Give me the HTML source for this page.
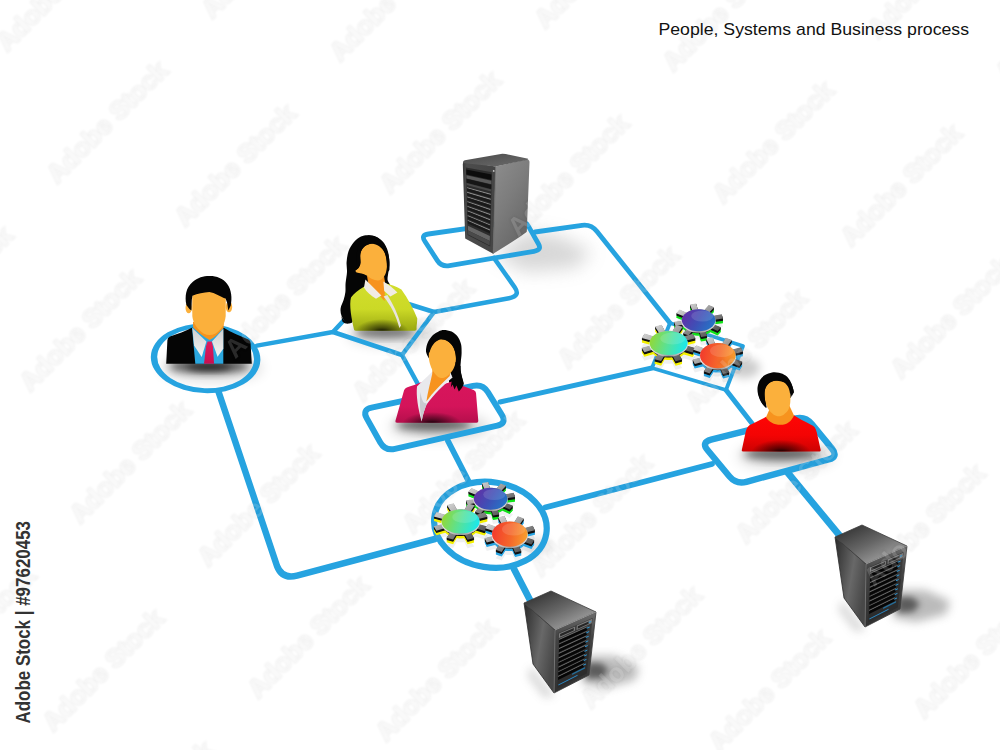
<!DOCTYPE html>
<html>
<head>
<meta charset="utf-8">
<title>People, Systems and Business process</title>
<style>
  html, body { margin:0; padding:0; background:#ffffff; }
  body { width:1000px; height:750px; overflow:hidden; font-family:"Liberation Sans", sans-serif; }
  svg { display:block; position:absolute; left:0; top:0; }
  .ln { fill:none; stroke:#26a3e0; stroke-linecap:round; stroke-linejoin:round; }
  .wm { font-family:"Liberation Sans", sans-serif; font-weight:bold; font-size:26px; }
</style>
</head>
<body>
<svg width="1000" height="750" viewBox="0 0 1000 750">
  <defs>
    <filter id="blur2" x="-50%" y="-50%" width="200%" height="200%"><feGaussianBlur stdDeviation="2"/></filter>
    <filter id="blur3" x="-50%" y="-50%" width="200%" height="200%"><feGaussianBlur stdDeviation="3"/></filter>
    <filter id="blur4" x="-50%" y="-50%" width="200%" height="200%"><feGaussianBlur stdDeviation="4"/></filter>
    <filter id="blur5" x="-50%" y="-50%" width="200%" height="200%"><feGaussianBlur stdDeviation="5"/></filter>
    <filter id="blur7" x="-50%" y="-50%" width="200%" height="200%"><feGaussianBlur stdDeviation="7"/></filter>
    <filter id="blur9" x="-50%" y="-50%" width="200%" height="200%"><feGaussianBlur stdDeviation="9"/></filter>
    <linearGradient id="gdP" x1="0" y1="0.3" x2="1" y2="0.7"><stop offset="0" stop-color="#6230a6"/><stop offset="0.5" stop-color="#3f4fb6"/><stop offset="1" stop-color="#2377c8"/></linearGradient>
    <linearGradient id="gdG" x1="0" y1="0.4" x2="1" y2="0.6"><stop offset="0" stop-color="#93d836"/><stop offset="0.5" stop-color="#56e29a"/><stop offset="1" stop-color="#17e8f0"/></linearGradient>
    <linearGradient id="gdO" x1="0" y1="0.4" x2="1" y2="0.5"><stop offset="0" stop-color="#f23a2c"/><stop offset="0.55" stop-color="#f5682a"/><stop offset="1" stop-color="#f8a02e"/></linearGradient>
    <linearGradient id="gTop" x1="0" y1="0" x2="1" y2="1"><stop offset="0" stop-color="#ececec"/><stop offset="0.45" stop-color="#9a9a9a"/><stop offset="1" stop-color="#3c3c3c"/></linearGradient>
    <linearGradient id="gRim" x1="0" y1="0" x2="1" y2="0"><stop offset="0" stop-color="#f0f0f0"/><stop offset="0.5" stop-color="#9a9a9a"/><stop offset="1" stop-color="#e0e0e0"/></linearGradient>
    <path id="gp" d="M713.3,315.8 L721.7,314.3 L723.1,318.6 L714.6,319.7 L714.5,321.3 L714.2,322.7 L713.5,324.2 L721,327.2 L717.6,330.9 L710.4,327.6 L708.8,328.6 L707,329.5 L705,330.2 L707.2,335.9 L701,336.9 L699.3,331.1 L697.1,331.1 L694.9,330.8 L692.8,330.4 L688.4,335.5 L683,333.2 L687.8,328.2 L686.2,327.1 L685,325.9 L683.9,324.6 L675.5,326.1 L674.1,321.8 L682.6,320.7 L682.7,319.1 L683,317.7 L683.7,316.2 L676.2,313.2 L679.6,309.5 L686.8,312.8 L688.4,311.8 L690.2,310.9 L692.2,310.2 L690,304.5 L696.2,303.5 L697.9,309.3 L700.1,309.3 L702.3,309.6 L704.4,310 L708.8,304.9 L714.2,307.2 L709.4,312.2 L711,313.3 L712.2,314.5Z"/>
    <path id="gg" d="M686.4,345.6 L695.4,348.1 L692.6,352.5 L683.8,349.8 L682.2,351.2 L680.4,352.4 L678.4,353.4 L682.2,359.4 L675.6,361.2 L672.2,355.1 L669.7,355.3 L667.2,355.3 L664.7,355 L661.1,361.1 L654.5,359.2 L658.5,353.3 L656.5,352.2 L654.8,351 L653.3,349.6 L644.4,352.2 L641.7,347.7 L650.8,345.4 L650.4,343.7 L650.5,342 L650.8,340.4 L641.8,337.9 L644.6,333.5 L653.4,336.2 L655,334.8 L656.8,333.6 L658.8,332.6 L655,326.6 L661.6,324.8 L665,330.9 L667.5,330.7 L670,330.7 L672.5,331 L676.1,324.9 L682.7,326.8 L678.7,332.7 L680.7,333.8 L682.4,335 L683.9,336.4 L692.8,333.8 L695.5,338.3 L686.4,340.6 L686.8,342.3 L686.7,344Z"/>
    <path id="go" d="M734.2,358.8 L742.3,361.5 L739.4,365.9 L731.5,362.9 L730,364.2 L728.2,365.4 L726.3,366.3 L729.4,372.4 L723.1,374 L720.4,367.8 L718,368 L715.7,367.9 L713.4,367.6 L709.7,373.4 L703.7,371.3 L707.7,365.6 L705.9,364.5 L704.4,363.2 L703.1,361.8 L694.8,364 L692.6,359.5 L701,357.5 L700.8,355.8 L700.9,354.1 L701.4,352.4 L693.3,349.7 L696.2,345.3 L704.1,348.3 L705.6,347 L707.4,345.8 L709.3,344.9 L706.2,338.8 L712.5,337.2 L715.2,343.4 L717.6,343.2 L719.9,343.3 L722.2,343.6 L725.9,337.8 L731.9,339.9 L727.9,345.6 L729.7,346.7 L731.2,348 L732.5,349.4 L740.8,347.2 L743,351.7 L734.6,353.7 L734.8,355.4 L734.7,357.1Z"/>
    <g id="gearset">
<use href="#gp" y="8.5" fill="#9aa0a6" opacity="0.16"/>
<use href="#gg" y="8.5" fill="#9aa0a6" opacity="0.16"/>
<use href="#go" y="8.5" fill="#9aa0a6" opacity="0.16"/>
<use href="#gp" y="4.6" fill="#12e21a"/>
<use href="#gp" y="4" fill="#12e21a"/>
<use href="#gp" y="3.4" fill="#12e21a"/>
<use href="#gp" y="2.8" fill="#12e21a"/>
<use href="#gp" y="2.2" fill="#111111"/>
<use href="#gp" y="1.6" fill="#111111"/>
<use href="#gp" y="1" fill="#111111"/>
<use href="#gp" y="0.5" fill="#111111"/>
<use href="#gp" fill="url(#gTop)"/>
<ellipse cx="698.6" cy="321.5" rx="17.1" ry="11.3" fill="url(#gRim)"/>
<ellipse cx="698.6" cy="320.2" rx="16.8" ry="11" fill="url(#gdP)"/>
<ellipse cx="702.3" cy="316" rx="11.1" ry="5.5" fill="#ffffff" opacity="0.13"/>
<use href="#gg" y="4.6" fill="#f4f000"/>
<use href="#gg" y="4" fill="#f4f000"/>
<use href="#gg" y="3.4" fill="#f4f000"/>
<use href="#gg" y="2.8" fill="#f4f000"/>
<use href="#gg" y="2.2" fill="#111111"/>
<use href="#gg" y="1.6" fill="#111111"/>
<use href="#gg" y="1" fill="#111111"/>
<use href="#gg" y="0.5" fill="#111111"/>
<use href="#gg" fill="url(#gTop)"/>
<ellipse cx="668.6" cy="344.3" rx="19.3" ry="12.3" fill="url(#gRim)"/>
<ellipse cx="668.6" cy="343" rx="19" ry="12" fill="url(#gdG)"/>
<ellipse cx="672.8" cy="338.4" rx="12.5" ry="6" fill="#ffffff" opacity="0.13"/>
<use href="#go" y="4.6" fill="#2aa6e4"/>
<use href="#go" y="4" fill="#2aa6e4"/>
<use href="#go" y="3.4" fill="#2aa6e4"/>
<use href="#go" y="2.8" fill="#2aa6e4"/>
<use href="#go" y="2.2" fill="#111111"/>
<use href="#go" y="1.6" fill="#111111"/>
<use href="#go" y="1" fill="#111111"/>
<use href="#go" y="0.5" fill="#111111"/>
<use href="#go" fill="url(#gTop)"/>
<ellipse cx="717.8" cy="356.9" rx="18.1" ry="12.9" fill="url(#gRim)"/>
<ellipse cx="717.8" cy="355.6" rx="17.8" ry="12.6" fill="url(#gdO)"/>
<ellipse cx="721.7" cy="350.8" rx="11.7" ry="6.3" fill="#ffffff" opacity="0.13"/>
</g>
    <linearGradient id="s1top" x1="0" y1="0" x2="1" y2="1"><stop offset="0" stop-color="#4a4a4a"/><stop offset="1" stop-color="#6c6c6c"/></linearGradient>
    <linearGradient id="s1front" x1="0" y1="0" x2="1" y2="0"><stop offset="0" stop-color="#3a3a3a"/><stop offset="0.12" stop-color="#4c4c4c"/><stop offset="1" stop-color="#454545"/></linearGradient>
    <linearGradient id="s1side" x1="0" y1="0" x2="0.6" y2="1"><stop offset="0" stop-color="#8e8e8e"/><stop offset="0.5" stop-color="#7c7c7c"/><stop offset="1" stop-color="#666666"/></linearGradient>
    <linearGradient id="s2top" x1="0.1" y1="0.1" x2="0.8" y2="0.9"><stop offset="0" stop-color="#343434"/><stop offset="0.5" stop-color="#666666"/><stop offset="1" stop-color="#a4a4a4"/></linearGradient>
    <linearGradient id="s2left" x1="0" y1="0" x2="1" y2="0.5"><stop offset="0" stop-color="#2a2a2a"/><stop offset="0.6" stop-color="#686868"/><stop offset="1" stop-color="#484848"/></linearGradient>
    <linearGradient id="s2front" x1="0" y1="0" x2="0" y2="1"><stop offset="0" stop-color="#6e6e6e"/><stop offset="0.3" stop-color="#444444"/><stop offset="1" stop-color="#303030"/></linearGradient>
    <g id="srvDark">
<polygon points="835,537 866,564 865,627 844,598" fill="url(#s2left)" stroke="#2a2a2a" stroke-width="0.8" stroke-linejoin="round"/>
<polygon points="866,564 907,546 900,609 865,627" fill="url(#s2front)" stroke="#3a3a3a" stroke-width="0.8" stroke-linejoin="round"/>
<polygon points="835,537 862,525 907,546 866,564" fill="url(#s2top)" stroke="#3c3c3c" stroke-width="0.8" stroke-linejoin="round"/>
<polyline points="866,564 907,546" fill="none" stroke="#a8a8a8" stroke-width="1" opacity="0.8"/>
<polyline points="866,564 865,627" fill="none" stroke="#8a8a8a" stroke-width="0.9" opacity="0.8"/>
<polygon points="869.6,567.1 903.6,552 897.8,607.4 868.2,622.5" fill="#3a3a3a"/>
<polygon points="868.9,593.9 900.8,578.8 897.8,607.4 868.2,622.5" fill="#2c2c2c"/>
<polygon points="870,567.6 886.2,560.4 885.9,564.8 869.9,572" fill="#7c7c7c"/>
<polygon points="887.8,559.6 903.2,552.8 902.7,557.2 887.5,564" fill="#7c7c7c"/>
<polygon points="871.1,568.1 884.9,562 884.7,564.5 871.1,570.6" fill="#262626"/>
<polygon points="888.9,560.2 899.8,555.4 899.6,557.8 888.7,562.7" fill="#262626"/>
<polygon points="870.2,573.1 898.6,560.3 898.5,561.2 870.2,574" fill="#707070"/>
<polygon points="870.2,574 898.5,561.2 898.2,564.3 870.1,577" fill="#060606"/>
<polygon points="897.7,561.8 900.7,560.5 900.6,561.5 897.6,562.8" fill="#2f9fe0"/>
<polygon points="870.1,577.7 898.1,564.9 898.1,565.8 870.1,578.6" fill="#707070"/>
<polygon points="870.1,578.6 898.1,565.8 897.8,568.9 870,581.7" fill="#060606"/>
<polygon points="897.2,566.4 900.2,565.1 900.1,566.1 897.2,567.5" fill="#2f9fe0"/>
<polygon points="870,582.3 897.7,569.6 897.6,570.5 870,583.2" fill="#707070"/>
<polygon points="870,583.2 897.6,570.5 897.3,573.5 869.9,586.3" fill="#060606"/>
<polygon points="896.8,571.1 899.7,569.7 899.6,570.7 896.7,572.1" fill="#2f9fe0"/>
<polygon points="869.9,587 897.3,574.2 897.2,575.1 869.8,587.9" fill="#707070"/>
<polygon points="869.8,587.9 897.2,575.1 896.9,578.1 869.7,590.9" fill="#060606"/>
<polygon points="896.4,575.7 899.3,574.3 899.2,575.3 896.3,576.7" fill="#2f9fe0"/>
<polygon points="869.7,591.6 896.8,578.8 896.8,579.7 869.7,592.5" fill="#707070"/>
<polygon points="869.7,592.5 896.8,579.7 896.5,582.7 869.6,595.5" fill="#060606"/>
<polygon points="896,580.3 898.8,579 898.7,580 895.9,581.3" fill="#2f9fe0"/>
<polygon points="869.6,596.2 896.4,583.4 896.3,584.3 869.6,597.1" fill="#707070"/>
<polygon points="869.6,597.1 896.3,584.3 896,587.4 869.5,600.1" fill="#060606"/>
<polygon points="895.5,584.9 898.4,583.6 898.3,584.6 895.5,585.9" fill="#2f9fe0"/>
<polygon points="869.5,600.8 896,588 895.9,588.9 869.5,601.7" fill="#707070"/>
<polygon points="869.5,601.7 895.9,588.9 895.6,592 869.4,604.8" fill="#060606"/>
<polygon points="895.1,589.5 897.9,588.2 897.8,589.2 895,590.6" fill="#2f9fe0"/>
<polygon points="869.4,605.4 895.5,592.7 895.5,593.5 869.3,606.3" fill="#707070"/>
<polygon points="869.3,606.3 895.5,593.5 895.2,596.6 869.3,609.4" fill="#060606"/>
<polygon points="894.7,594.2 897.5,592.8 897.4,593.8 894.6,595.2" fill="#2f9fe0"/>
<polygon points="869.2,610.1 895.1,597.3 895,598.2 869.2,610.9" fill="#707070"/>
<polygon points="869.2,610.9 895,598.2 894.7,601.2 869.1,614" fill="#060606"/>
<polygon points="894.3,598.8 897,597.4 896.9,598.4 894.2,599.8" fill="#2f9fe0"/>
<polygon points="899.8,555.9 902.2,554.9 902.1,556 899.7,557.1" fill="#2f9fe0"/>
<polygon points="869.4,618.5 888.6,608.8 888.5,609.8 869.3,619.5" fill="#2b8ccb"/>
<polygon points="883.2,607.6 896.1,601.1 896,602.4 883.1,608.9" fill="#256f9c"/>
</g>
    <linearGradient id="shirtG" x1="0" y1="0" x2="0" y2="1"><stop offset="0" stop-color="#cfcfcf"/><stop offset="1" stop-color="#f4f4f4"/></linearGradient>
    <radialGradient id="bshade" cx="0.5" cy="0.5" r="0.5"><stop offset="0" stop-color="#000" stop-opacity="0.95"/><stop offset="0.35" stop-color="#000" stop-opacity="0.55"/><stop offset="1" stop-color="#000" stop-opacity="0"/></radialGradient>
    <linearGradient id="olive" x1="0" y1="0" x2="0" y2="1"><stop offset="0" stop-color="#d3de2c"/><stop offset="0.55" stop-color="#cbd926"/><stop offset="1" stop-color="#9aa812"/></linearGradient>
    <linearGradient id="pinkG" x1="0" y1="0" x2="0" y2="1"><stop offset="0" stop-color="#d8155c"/><stop offset="0.6" stop-color="#d4145a"/><stop offset="1" stop-color="#b50f4c"/></linearGradient>
    <linearGradient id="redG" x1="0" y1="0" x2="0" y2="1"><stop offset="0" stop-color="#ff0505"/><stop offset="0.55" stop-color="#f40404"/><stop offset="1" stop-color="#cc0202"/></linearGradient>
    <linearGradient id="tieG" x1="0" y1="0" x2="0" y2="1"><stop offset="0" stop-color="#de1a5e"/><stop offset="1" stop-color="#c8104f"/></linearGradient>
    <clipPath id="cW1"><path d="M364.4,286.4 C358,290 353.6,293.6 351,297.6 C349,305 351.4,318 354,329.6 Q354.4,330.8 356,330.8 L414.6,330.8 Q416.6,330.8 416.6,329 L417.3,318.4 C413.6,309 408,298.6 401.4,289.4 C397,286.6 391,284.6 384,283 Z"/></clipPath>
    <clipPath id="cW2"><path d="M423.6,381.4 C417,384 411,386 406.8,387.4 Q404.6,388.2 404,390.4 L395.4,421 Q395,422.8 397,422.8 L476.6,422.8 Q478.4,422.8 478.3,421 L476,393 Q475.8,390.8 473.6,390 C468,388 460,385 452,381.6 L438,386 Z"/></clipPath>
    <clipPath id="cR"><path d="M766,416.8 C760,420.4 753.6,422.8 749.4,425.2 C746.8,427 745.8,430.6 744.9,435.6 L741.8,450 Q741.5,451.6 743.2,451.6 L819.4,451.6 Q821,451.6 820.7,450 L817.5,435.6 C816.5,430.6 815.6,427.6 813,425.8 C808,423 800,419.4 794,415.2 L780,422 Z"/></clipPath>
    <filter id="wmf" x="-10%" y="-60%" width="120%" height="220%"><feGaussianBlur stdDeviation="1.1"/></filter>
    <g id="wm"><text class="wm" text-anchor="middle" x="0" y="9" fill="none" stroke="#000000" stroke-width="2.4" opacity="0.042" filter="url(#wmf)">Adobe Stock</text><text class="wm" text-anchor="middle" x="0" y="9" fill="#ffffff" opacity="0.15">Adobe Stock</text></g>
  </defs>
  <rect x="0" y="0" width="1000" height="750" fill="#ffffff"/>

  <!-- shadows -->
  <polygon points="494,254 527,231 560,236 592,252 575,268 525,272" fill="#8c8c8c" opacity="0.34" filter="url(#blur9)"/>
  <g transform="translate(0 0)">
  <polygon points="896,590 925,590 950,601 946,614 916,622 893,618" fill="#777777" opacity="0.5" filter="url(#blur5)"/>
  <polygon points="897,597 912,597 920,604 913,612 897,613" fill="#000000" opacity="0.5" filter="url(#blur3)"/>
  <polygon points="842,600 866,630 855,632 838,610" fill="#707070" opacity="0.25" filter="url(#blur4)"/>
  </g>
  <g transform="translate(-311 66)">
  <polygon points="896,590 925,590 950,601 946,614 916,622 893,618" fill="#777777" opacity="0.5" filter="url(#blur5)"/>
  <polygon points="897,597 912,597 920,604 913,612 897,613" fill="#000000" opacity="0.5" filter="url(#blur3)"/>
  <polygon points="842,600 866,630 855,632 838,610" fill="#707070" opacity="0.25" filter="url(#blur4)"/>
  </g>
  <ellipse cx="212" cy="368" rx="50" ry="12" fill="#000" opacity="0.16" filter="url(#blur7)"/>
  <ellipse cx="392" cy="334" rx="44" ry="11" fill="#000" opacity="0.16" filter="url(#blur7)"/>
  <ellipse cx="440" cy="427" rx="50" ry="12" fill="#000" opacity="0.16" filter="url(#blur7)"/>
  <ellipse cx="786" cy="456" rx="48" ry="12" fill="#000" opacity="0.16" filter="url(#blur7)"/>
  <ellipse cx="744" cy="368" rx="16" ry="10" fill="#000" opacity="0.2" filter="url(#blur5)"/>
  <ellipse cx="536" cy="546" rx="14" ry="9" fill="#000" opacity="0.12" filter="url(#blur5)"/>
  <ellipse cx="209" cy="366" rx="40" ry="7" fill="#000" opacity="0.62" filter="url(#blur4)"/>
  <ellipse cx="209" cy="367" rx="22" ry="4" fill="#000" opacity="0.5" filter="url(#blur3)"/>
  <ellipse cx="385" cy="332" rx="30" ry="5.5" fill="#000" opacity="0.5" filter="url(#blur4)"/>
  <ellipse cx="434" cy="424.5" rx="38" ry="6.5" fill="#000" opacity="0.55" filter="url(#blur4)"/>
  <ellipse cx="781" cy="453.5" rx="37" ry="6.5" fill="#000" opacity="0.55" filter="url(#blur4)"/>

  <!-- network lines -->
  <g id="lines" class="ln">
    <path transform="rotate(2 205.6 358.3)" fill="#26a3e0" fill-rule="evenodd" stroke="none" d="M150.8,358.3 A54.8,34.8 0 1 0 260.4,358.3 A54.8,34.8 0 1 0 150.8,358.3 Z M157.2,358.1 A48.4,30.2 0 1 0 254,358.1 A48.4,30.2 0 1 0 157.2,358.1 Z"/>
    <path d="M257,345.6 L333,332" stroke-width="4.5"/>
    <path d="M333,332 L370,292 L434,312 L402,355 Z" stroke-width="4.5"/>
    <path d="M434,312 L509,298.2 Q521,296 514.5,287 L494,258" stroke-width="4.6"/>
    <path d="M425,241.5 Q420.5,235 428.5,234 L517,221.4 Q525,220.4 528.5,226.4 L538.5,244 Q542,250 534,251.3 L449.5,265.6 Q441.5,267 437.4,260.6 Z" stroke-width="4.8"/>
    <path d="M535,232 L582,225.3 Q591,224 597,231.5 L670,323" stroke-width="4.8"/>
    <path d="M670,323 L652,368 L726,390 L743,346 Z" stroke-width="3.8"/>
    <path d="M652,368 L500,402" stroke-width="5"/>
    <path d="M726,390 L754,426" stroke-width="5"/>
    <path d="M707.7,450.3 Q700.9,442.3 711.1,439.7 L795,418.5 Q805.2,415.9 811.8,424 L832,448.6 Q838.6,456.8 828.5,459.5 L746.4,481.8 Q736.3,484.5 729.5,476.5 Z" stroke-width="6.4"/>
    <path d="M712,464 L545,507.5" stroke-width="5.8"/>
    <path d="M788,473 L840,536" stroke-width="6.8"/>
    <path d="M402,355 L420,388" stroke-width="4.6"/>
    <path d="M366.8,418.4 Q361.9,409.7 371.6,407.6 L473,385.9 Q482.8,383.8 488,392.3 L501.8,414.8 Q507,423.3 497.3,425.6 L395,448.9 Q385.3,451.1 380.3,442.4 Z" stroke-width="6"/>
    <path d="M448,441 L469,482" stroke-width="5.8"/>
    <ellipse cx="490.4" cy="524.8" rx="56.6" ry="42.6" stroke-width="6.2" transform="rotate(9 490.4 524.8)"/>
    <path d="M435,539 L297,575.6 Q282.3,579.6 277,566 L218.6,392" stroke-width="6.5"/>
    <path d="M514,569 L531,602" stroke-width="6.8"/>
  </g>

  <!-- servers -->
  <g id="srv1">
  <path d="M495.6,166.4 L526.6,159.4 Q529.6,159.2 529.5,162.2 L526.8,231.6 Q526.8,233.1 493.2,253.8 Z" fill="url(#s1side)"/>
  <path d="M462.8,164 Q462.8,161 465.8,161.5 L495.6,166.4 L493.2,253.8 L465.2,238.6 Z" fill="url(#s1front)"/>
  <path d="M463,163 Q462.8,160.4 466.3,160.1 L500.8,153.9 Q502.8,153.6 505.8,154.1 L527.1,158.6 Q529.6,159.2 527,159.9 L495.6,166.4 Z" fill="url(#s1top)"/>
  <polyline points="495.6,166.4 493.2,253.8" fill="none" stroke="#6a6a6a" stroke-width="0.8"/>
  <polygon points="465.9,167.4 491.9,172.3 490.2,246.5 467.6,234.9" fill="#2c2c2c"/>
  <polygon points="466.3,169.4 491.5,174.4 491.4,180 466.4,174.5" fill="#0c0c0c"/>
  <polygon points="466.4,175.3 491.3,180.8 491.3,184.3 466.5,178.4" fill="#5a5a5a"/>
  <polygon points="466.5,178.8 491.3,184.7 491.2,189 466.6,182.8" fill="#161616"/>
  <polygon points="466.6,183.1 491.2,189.5 491.1,191.6 466.7,185.1" fill="#484848"/>
  <polygon points="467,187.2 490.8,193.7 490.7,194.9 467,188.3" fill="#8a8a8a"/>
  <polygon points="467,188.3 490.7,194.9 490.7,197.8 467.1,190.9" fill="#1a1a1a"/>
  <polygon points="467.1,191.8 490.7,198.8 490.6,200 467.2,192.9" fill="#8a8a8a"/>
  <polygon points="467.2,192.9 490.6,200 490.6,202.9 467.2,195.6" fill="#1a1a1a"/>
  <polygon points="467.2,196.5 490.5,203.9 490.5,205.1 467.3,197.6" fill="#8a8a8a"/>
  <polygon points="467.3,197.6 490.5,205.1 490.5,208 467.3,200.2" fill="#1a1a1a"/>
  <polygon points="467.3,201.2 490.4,209 490.4,210.2 467.4,202.3" fill="#8a8a8a"/>
  <polygon points="467.4,202.3 490.4,210.2 490.4,213.1 467.4,204.9" fill="#1a1a1a"/>
  <polygon points="467.5,205.9 490.3,214.1 490.3,215.3 467.5,207" fill="#8a8a8a"/>
  <polygon points="467.5,207 490.3,215.3 490.3,218.2 467.5,209.6" fill="#1a1a1a"/>
  <polygon points="467.6,210.5 490.2,219.3 490.2,220.5 467.6,211.6" fill="#8a8a8a"/>
  <polygon points="467.6,211.6 490.2,220.5 490.1,223.3 467.7,214.2" fill="#1a1a1a"/>
  <polygon points="467.7,215.2 490.1,224.4 490.1,225.6 467.7,216.3" fill="#8a8a8a"/>
  <polygon points="467.7,216.3 490.1,225.6 490,228.5 467.8,218.9" fill="#1a1a1a"/>
  <polygon points="467.8,219.9 490,229.5 490,230.7 467.8,221" fill="#8a8a8a"/>
  <polygon points="467.8,221 490,230.7 489.9,233.6 467.9,223.6" fill="#1a1a1a"/>
  <polygon points="467.9,225.7 489.9,235.9 489.8,241.1 468,230.4" fill="#666666"/>
  <polygon points="468,230.4 489.8,241.1 489.7,245.4 468.1,234.4" fill="#4a4a4a"/>
  <circle cx="493.7" cy="170.9" r="0.9" fill="#c8c8c8"/>
  </g>
  <use href="#srvDark"/>
  <use href="#srvDark" transform="translate(-311 66)"/>

  <!-- gears -->
  <use href="#gearset"/>
  <use href="#gearset" transform="translate(-208 178.5)"/>

  <!-- people -->
  <g id="woman1">
  <path d="M368.4,235.3 C371,235.4 374,235.9 376.5,237.2 C379,238.5 381.3,240.5 383.2,243 C385.1,245.5 386.6,248.8 387.6,252 C388.6,255.2 389.3,258.7 389.4,262 C389.5,265.3 388.7,269 388.4,272 C388.1,275 387.3,277.7 387.6,280 C387.9,282.3 390.8,284.7 390.2,286 C389.6,287.3 387,287 384,288 C381,289 375.7,290.3 372,292 C368.3,293.7 364.7,295.7 362,298 C359.3,300.3 357.4,303 356,306 C354.6,309 354.2,313.2 353.5,316 C352.8,318.8 353.2,321.6 352,322.6 C350.8,323.6 347.7,323.1 346,322 C344.3,320.9 342.5,318.3 341.6,316 C340.7,313.7 340.3,311.1 340.6,308.4 C340.9,305.7 342.8,302.7 343.6,300 C344.4,297.3 345.1,294.8 345.4,292 C345.7,289.2 345.3,286.3 345.6,283 C345.9,279.7 346.8,275.5 347,272 C347.2,268.5 346.3,265.5 346.6,262 C346.9,258.5 347.4,254.3 348.6,251 C349.8,247.7 351.9,244.4 354,242 C356.1,239.6 358.6,237.7 361,236.6 C363.4,235.5 365.8,235.2 368.4,235.3Z" fill="#050505"/>
  <path d="M341.2,315.5 C342.6,320.2 347,322.8 351.6,322 C350,324 345.2,324.6 342.4,321.4 Z" fill="#050505"/>
  <path d="M364.4,286.4 C358,290 353.6,293.6 351,297.6 C349,305 351.4,318 354,329.6 Q354.4,330.8 356,330.8 L414.6,330.8 Q416.6,330.8 416.6,329 L417.3,318.4 C413.6,309 408,298.6 401.4,289.4 C397,286.6 391,284.6 384,283 Z" fill="url(#olive)"/>
  <ellipse cx="382" cy="332" rx="27" ry="13" fill="url(#bshade)" clip-path="url(#cW1)"/>
  <path d="M367,276 L368.4,284 L384.6,301 L385,282 L383.6,274 Z" fill="#f7931e"/>
  <path d="M383.6,296.4 L387.4,295 C393,304 398,314 401,325.6 L399.4,328 C396.4,316 390.6,305 383.6,296.4 Z" fill="#e8e4de"/>
  <path d="M365.4,279.6 L381.4,295.6 L376,298.8 C370.6,295.6 366.6,292 364,287.6 Z" fill="#f1ece3"/>
  <path d="M383.4,281.4 C388,284 393,288 397.4,292.4 L390.4,296.6 L384.2,291 Z" fill="#f1ece3"/>
  <path d="M371.6,243.8 C373.6,243.8 376,244.3 378,245.4 C380,246.5 382,248.3 383.4,250.4 C384.8,252.5 385.8,255.3 386.4,258 C387,260.7 387.1,264 387,266.6 C386.9,269.2 386.4,271.6 385.6,273.6 C384.8,275.6 383.7,277.3 382.4,278.4 C381.1,279.5 379.7,280.3 378,280.4 C376.3,280.5 373.9,279.8 372,279 C370.1,278.2 368.3,276.5 366.6,275.6 C364.9,274.7 363.2,274.1 361.6,273.6 C360,273.1 357.8,273.1 356.8,272.6 C355.8,272.1 355.3,271.2 355.6,270.4 C355.9,269.6 357.8,269.2 358.6,268 C359.4,266.8 360.4,264.9 360.6,263 C360.8,261.1 359.6,258.8 359.8,256.6 C360,254.4 360.6,251.9 361.6,250 C362.6,248.1 364.3,246.4 366,245.4 C367.7,244.4 369.6,243.8 371.6,243.8Z" fill="#fbb03c"/>
  <path d="M368.4,235.3 C362,238 357.6,244 357,252 C356.4,260 358,266 355.4,270.6 C359.6,268.4 361,263 360.4,257 C360,250 364,245 371.6,243.6 C377,242.6 382,247 384.6,252 C386.6,258 387.6,266 386.4,274 L389.4,270 C390,260 389,250 384,243 C380,238 374.6,235 368.4,235.3 Z" fill="#050505"/>
  </g>
  <g id="woman2">
  <path d="M443.8,330 C446,330 449.3,330.5 451.6,331.6 C453.9,332.7 456,334.5 457.6,336.6 C459.2,338.7 460.3,341.3 461,344 C461.7,346.7 461.6,350 461.6,353 C461.6,356 461,359.2 460.8,362 C460.6,364.8 460.2,367.5 460.4,370 C460.6,372.5 461.5,374.7 462,377 C462.5,379.3 463.7,381.8 463.6,383.6 C463.5,385.4 462.2,386.7 461.4,388 C460.6,389.3 459.7,391.9 459,391.4 C458.3,390.9 457.6,385.3 457,385 C456.4,384.7 456.4,389.6 455.6,389.4 C454.8,389.2 453.2,384.2 452.4,384 C451.6,383.8 451.6,388.7 451,388 C450.4,387.3 449.2,382.7 448.6,380 C448,377.3 449,374.3 447.6,372 C446.2,369.7 442.6,367.7 440,366 C437.4,364.3 434.1,363.7 432,362 C429.9,360.3 428.6,358 427.6,356 C426.6,354 425.9,352.3 426,350 C426.1,347.7 426.8,344.5 428,342 C429.2,339.5 431.2,336.8 433,335 C434.8,333.2 436.8,332.2 438.6,331.4 C440.4,330.6 441.6,330 443.8,330Z" fill="#050505"/>
  <path d="M423.6,381.4 C417,384 411,386 406.8,387.4 Q404.6,388.2 404,390.4 L395.4,421 Q395,422.8 397,422.8 L476.6,422.8 Q478.4,422.8 478.3,421 L476,393 Q475.8,390.8 473.6,390 C468,388 460,385 452,381.6 L438,386 Z" fill="url(#pinkG)"/>
  <ellipse cx="432" cy="424" rx="30" ry="12" fill="url(#bshade)" clip-path="url(#cW2)"/>
  <path d="M432,372 C426,378 420.6,382.6 417,386.6 C416,396 418,408 421.6,421.4 C423,414 425,408 427.4,402.6 L426.2,401.6 C433,392 443,383 451.6,375.6 L449.6,371 Z" fill="#e9e9ec"/>
  <path d="M421.6,421.4 C420,412 419.4,402 420.4,392 C421.6,400 423.6,405 427.4,402.6 C425,408 423,414 421.6,421.4 Z" fill="#c9c9cf"/>
  <path d="M449.6,372 L452.6,377.4 C444,384.6 434,394 426.6,404.4 L425.6,400 Z" fill="#ececef"/>
  <path d="M432.6,366 L432.2,374 C430,384 427.6,393 426.4,401.4 C433,392 442,383.6 449.8,376 L450.6,366 Z" fill="#f7931e"/>
  <path d="M440.6,339.2 C442.8,339 445.6,339.9 447.6,341 C449.6,342.1 451.3,344 452.6,346 C453.9,348 454.9,350.5 455.4,353 C455.9,355.5 456.1,358.4 455.8,361 C455.5,363.6 454.7,366.3 453.6,368.6 C452.5,370.9 450.7,373 449,374.6 C447.3,376.2 445.1,377.7 443.2,378 C441.3,378.3 439.3,377.6 437.6,376.4 C435.9,375.2 434.3,373.1 433,371 C431.7,368.9 430.7,366.5 430,364 C429.3,361.5 428.8,358.7 428.8,356 C428.8,353.3 429.1,350.3 430,348 C430.9,345.7 432.6,343.5 434.4,342 C436.2,340.5 438.4,339.4 440.6,339.2Z" fill="#fbb03c"/>
  <path d="M426.4,352 C427,344 431.6,337 438.6,334 C446,331.4 454,334 458,341 C460.6,347 460.6,356 459.6,364 L456,366 C456.6,357 455.6,349 451,344 C447.6,340.4 443,338.6 439.6,339.6 C434.6,341.6 431,346.4 429.6,352.6 Z" fill="#050505"/>
  <path d="M455.4,362 C456,368 455.6,372 454.6,376 L452,379 L450.8,387.6 L452.6,384.4 L454.6,389.6 L456.4,385.4 L458.8,391.6 C461,389 463.4,386.6 463.6,383.4 C462,378 460.4,372 460.6,366 Z" fill="#050505"/>
  </g>
  <g id="man1">
  <path d="M192.4,327.6 C186,331 177,334.2 170,336.6 Q167.6,337.6 167.4,340.2 L166.2,363.8 L251.8,363.8 L250.5,342.6 Q250.3,340.2 248.4,339.4 C240,336 231,332.2 223.4,327.4 L209.5,346 Z" fill="#050505"/>
  <polygon points="192,327.8 223.3,327.8 223.3,363.8 195.3,363.8" fill="#2ba7df"/>
  <polygon points="192.3,328 206.4,341.4 201.7,357 194.1,345.6" fill="url(#shirtG)"/>
  <polygon points="223.3,329 223.3,348.8 217.6,356.8 212,341.4" fill="url(#shirtG)"/>
  <path d="M207.6,341.6 L211.7,341.6 L212.9,346.2 L214.1,363.8 L204,363.8 L206,346.2 Z" fill="url(#tieG)"/>
  <path d="M193,322 L193.2,327.6 C198,332 204,337.4 209.6,340 C215,337.6 219.5,332.6 223.6,327.8 L223.8,320 Z" fill="#f7931e"/>
  <ellipse cx="188.7" cy="308" rx="3.2" ry="5.2" fill="#fbb03c"/>
  <ellipse cx="229" cy="307" rx="3.2" ry="5.2" fill="#fbb03c"/>
  <path d="M192.2,290 L192.3,316 C193,323.5 198,330 203.5,333.4 Q209.5,336.8 215.5,333.4 C221,330 225,323.5 225.7,316 L225.8,290 Z" fill="#fbb03c"/>
  <path d="M186.4,305 C184.6,296 186,287.6 192.6,282 C197.6,277.6 204,276 209.6,276.1 C216.4,276 223,278.4 227.2,284 C231.6,290 232.2,298 230.8,305.4 L228.3,310.6 L227.2,303 L225.6,298.6 C221,297 214.6,292.6 209.4,292 C203.6,292.6 197.6,293.6 192.4,295.8 L191.8,300 L191.4,310.4 L189.4,309 Z" fill="#050505"/>
  </g>
  <g id="redman">
  <path d="M772,372.5 C774.3,372.1 776.7,372.3 779,372.8 C781.3,373.3 783.8,374.3 785.6,375.6 C787.4,376.9 788.9,378.8 790,380.6 C791.1,382.4 791.8,384.6 792.4,386.6 C793,388.6 794,391.3 793.8,392.4 C793.6,393.5 791.6,392.1 791,393 C790.4,393.9 791.2,398.2 790.4,398 C789.6,397.8 787.7,394 786,392 C784.3,390 782.3,387 780,386 C777.7,385 774.3,385.3 772,386 C769.7,386.7 767.1,388 766,390 C764.9,392 765.5,395.1 765.6,398 C765.7,400.9 766.8,406.4 766.4,407.6 C766,408.8 764.4,406.3 763.4,405 C762.4,403.7 761.3,401.8 760.4,400 C759.5,398.2 758.5,396.2 758,394 C757.5,391.8 757.3,389.3 757.6,387 C757.9,384.7 758.8,382 760,380 C761.2,378 763,376.2 765,375 C767,373.8 769.7,372.9 772,372.5Z" fill="#050505"/>
  <path d="M766,416.8 C760,420.4 753.6,422.8 749.4,425.2 C746.8,427 745.8,430.6 744.9,435.6 L741.8,450 Q741.5,451.6 743.2,451.6 L819.4,451.6 Q821,451.6 820.7,450 L817.5,435.6 C816.5,430.6 815.6,427.6 813,425.8 C808,423 800,419.4 794,415.2 L780,422 Z" fill="url(#redG)"/>
  <ellipse cx="781" cy="452.6" rx="30" ry="13" fill="url(#bshade)" clip-path="url(#cR)"/>
  <path d="M771,406 L766,417.2 C769,422 774,424.8 780.4,424.8 C787,424.8 791.6,421 794,415.4 L788.6,404 Z" fill="#f7931e"/>
  <path d="M778.8,381 C780.6,381.3 782.8,381.5 784.4,382.6 C786,383.7 787.4,385.5 788.4,387.6 C789.4,389.7 789.9,392.4 790.2,395 C790.5,397.6 790.5,400.6 790.2,403 C789.9,405.4 789.4,407.7 788.4,409.6 C787.4,411.5 785.6,413.3 784,414.4 C782.4,415.5 780.6,416.2 778.8,416.2 C777,416.2 775.1,415.5 773.4,414.4 C771.7,413.3 769.9,411.5 768.6,409.6 C767.3,407.7 766.5,405.3 765.8,403 C765.1,400.7 764.7,398.3 764.6,396 C764.5,393.7 764.6,391.1 765.2,389 C765.8,386.9 767,384.9 768.4,383.6 C769.8,382.3 771.7,381.4 773.4,381 C775.1,380.6 777,380.7 778.8,381Z" fill="#fbb03c"/>
  <path d="M764.6,391 C766,385 770,381.4 776,380.6 C782,380 787,383 789.4,388 C790.6,391 791,394 791.4,397 L793.8,392.4 C793,384 788,377 781,374.6 C773,372 765,375 761,381 C758,386 757.4,392 759,397 C760.4,402 763,405.6 766.4,407.6 C765,402 764.2,396 764.6,391 Z" fill="#050505"/>
  </g>

  <!-- watermark overlay -->
  <g id="watermarks">
  <use href="#wm" transform="translate(-71 -53) rotate(-45)"/>
  <use href="#wm" transform="translate(57 -10) rotate(-45)"/>
  <use href="#wm" transform="translate(262 -43) rotate(-45)"/>
  <use href="#wm" transform="translate(390 0) rotate(-45)"/>
  <use href="#wm" transform="translate(595 -33) rotate(-45)"/>
  <use href="#wm" transform="translate(723 10) rotate(-45)"/>
  <use href="#wm" transform="translate(928 -23) rotate(-45)"/>
  <use href="#wm" transform="translate(1056 20) rotate(-45)"/>
  <use href="#wm" transform="translate(107 122) rotate(-45)"/>
  <use href="#wm" transform="translate(235 165) rotate(-45)"/>
  <use href="#wm" transform="translate(440 132) rotate(-45)"/>
  <use href="#wm" transform="translate(568 175) rotate(-45)"/>
  <use href="#wm" transform="translate(773 142) rotate(-45)"/>
  <use href="#wm" transform="translate(901 185) rotate(-45)"/>
  <use href="#wm" transform="translate(-48 287) rotate(-45)"/>
  <use href="#wm" transform="translate(80 330) rotate(-45)"/>
  <use href="#wm" transform="translate(285 297) rotate(-45)"/>
  <use href="#wm" transform="translate(413 340) rotate(-45)"/>
  <use href="#wm" transform="translate(618 307) rotate(-45)"/>
  <use href="#wm" transform="translate(746 350) rotate(-45)"/>
  <use href="#wm" transform="translate(951 317) rotate(-45)"/>
  <use href="#wm" transform="translate(1079 360) rotate(-45)"/>
  <use href="#wm" transform="translate(-75 495) rotate(-45)"/>
  <use href="#wm" transform="translate(130 462) rotate(-45)"/>
  <use href="#wm" transform="translate(258 505) rotate(-45)"/>
  <use href="#wm" transform="translate(463 472) rotate(-45)"/>
  <use href="#wm" transform="translate(591 515) rotate(-45)"/>
  <use href="#wm" transform="translate(796 482) rotate(-45)"/>
  <use href="#wm" transform="translate(924 525) rotate(-45)"/>
  <use href="#wm" transform="translate(-25 627) rotate(-45)"/>
  <use href="#wm" transform="translate(103 670) rotate(-45)"/>
  <use href="#wm" transform="translate(308 637) rotate(-45)"/>
  <use href="#wm" transform="translate(436 680) rotate(-45)"/>
  <use href="#wm" transform="translate(641 647) rotate(-45)"/>
  <use href="#wm" transform="translate(769 690) rotate(-45)"/>
  <use href="#wm" transform="translate(974 657) rotate(-45)"/>
  <use href="#wm" transform="translate(-52 835) rotate(-45)"/>
  <use href="#wm" transform="translate(153 802) rotate(-45)"/>
  <use href="#wm" transform="translate(486 812) rotate(-45)"/>
  <use href="#wm" transform="translate(819 822) rotate(-45)"/>
  </g>

  <!-- text -->
  <text x="658.5" y="35" font-family="Liberation Sans, sans-serif" font-size="16.4" fill="#111111" textLength="310.5" lengthAdjust="spacingAndGlyphs">People, Systems and Business process</text>
  <text transform="translate(29.6 723.5) rotate(-90)" font-family="Liberation Sans, sans-serif" font-weight="bold" font-size="19.6" fill="#333333" textLength="202.5" lengthAdjust="spacingAndGlyphs">Adobe Stock | #97620453</text>
</svg>
</body>
</html>
